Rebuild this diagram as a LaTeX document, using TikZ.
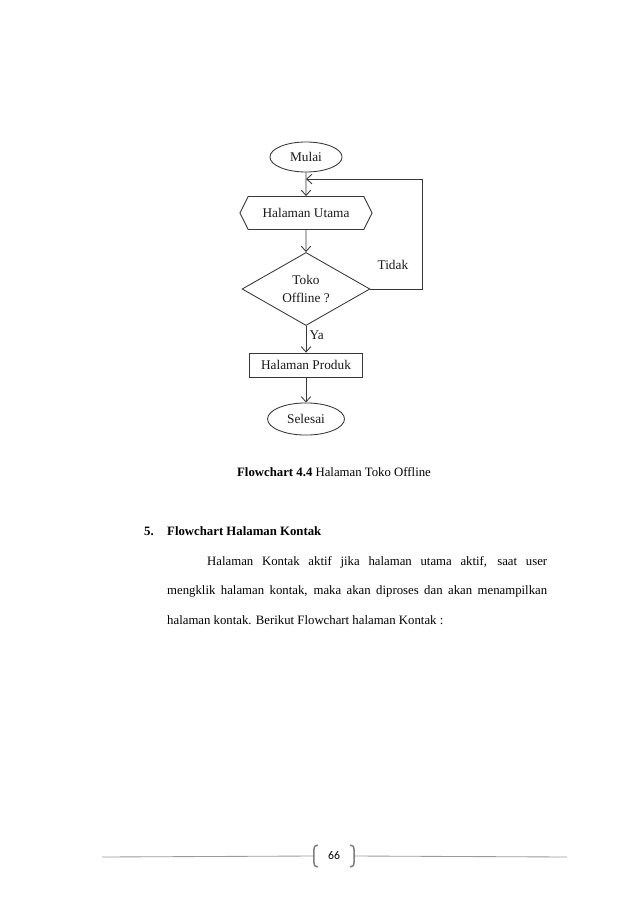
\documentclass[tikz,border=0pt]{standalone}
\usepackage{fontspec}
\setmainfont{Liberation Serif}
\newfontfamily\footfont{Carlito}
\usetikzlibrary{arrows.meta,positioning,calc,shapes.geometric,shapes.symbols}
\definecolor{LineGray}{RGB}{55,55,55}
\definecolor{InkBlack}{RGB}{25,25,25}
\definecolor{FootGray}{RGB}{155,155,155}
\definecolor{BracketGray}{RGB}{125,125,125}

\begin{document}
\begin{tikzpicture}[
      x=0.033cm,y=-0.033cm,
      termNode/.style={draw=LineGray,ellipse,inner sep=0pt,line width=0.8pt,
                       font=\fontsize{12.5}{14}\selectfont,text=InkBlack},
      pageNode/.style={draw=LineGray,signal,signal to=west and east,signal pointer angle=127,
                       inner sep=0pt,minimum width=4.36cm,minimum height=1.09cm,line width=0.8pt,
                       font=\fontsize{12.5}{14}\selectfont,text=InkBlack},
      askNode/.style={draw=LineGray,diamond,aspect=1.75,inner sep=0pt,
                      minimum width=4.22cm,minimum height=2.41cm,line width=0.8pt,align=center,
                      font=\fontsize{12.5}{17}\selectfont,text=InkBlack},
      procNode/.style={draw=LineGray,rectangle,inner sep=0pt,
                       minimum width=3.73cm,minimum height=0.79cm,line width=0.8pt,
                       font=\fontsize{12.5}{14}\selectfont,text=InkBlack},
      lbl/.style={inner sep=0pt,font=\fontsize{12.5}{14}\selectfont,text=InkBlack},
      bodyText/.style={inner sep=0pt,anchor=base west,font=\fontsize{12}{14}\selectfont,text=black},
      arr/.style={-{Straight Barb[length=5pt,width=9pt]},line width=0.8pt,color=LineGray},
      footLine/.style={line width=0.8pt,color=FootGray},
      bracket/.style={line width=1.4pt,color=BracketGray}
    ]
    \useasboundingbox[fill=white] (0,0) rectangle (638,903);

    % Flowchart 4.4 (top to bottom)
    \node(mulai)[termNode,minimum width=2.38cm,minimum height=0.99cm] at (306,157) {Mulai};
    \node(utama)[pageNode] at (306,213) {Halaman Utama};
    \node(toko)[askNode] at (306,289) {Toko\\Offline ?};
    \node(produk)[procNode] at (306,365) {Halaman Produk};
    \node(selesai)[termNode,minimum width=2.54cm,minimum height=1.06cm] at (306,419) {Selesai};

    \coordinate (loopin) at ($(mulai.south)!0.28!(utama.north)$);

    % Main arrows
    \draw[arr] (mulai) -- (utama);
    \draw[arr] (utama) -- (toko);
    \draw[arr] (toko) -- node[lbl,right,pos=0.36,xshift=3pt]{Ya} (produk);
    \draw[arr] (produk) -- (selesai);

    % Loop back on the right
    \draw[arr] (toko.east) -- ++(52,0) coordinate (turn) |- (loopin);
    \node(tidak)[lbl,above left=0.64cm and 0.46cm of turn] {Tidak};

    % Caption and text below
    \node(caption)[bodyText,anchor=base] at (334,476) {\textbf{Flowchart 4.4} Halaman Toko Offline};
    \node(secnum)[bodyText] at (144,535) {\textbf{5.}};
    \node(sectitle)[bodyText] at (167,535) {\textbf{Flowchart Halaman Kontak}};
    \node(para1)[bodyText] at (207,565)
      {\makebox[11.22cm][s]{Halaman Kontak aktif jika halaman utama aktif, saat user}};
    \node(para2)[bodyText] at (167,594)
      {\makebox[12.54cm][s]{mengklik halaman kontak, maka akan diproses dan akan menampilkan}};
    \node(para3)[bodyText] at (167,624) {halaman kontak. Berikut Flowchart halaman Kontak :};

    % Footer with page number
    \coordinate (footL) at (102,857);
    \coordinate (footR) at (567,857);
    \node(pagenum)[inner sep=0pt,minimum width=1.32cm,font=\footfont\fontsize{11}{13}\selectfont] at (334,856) {66};
    \draw[footLine] (footL) -- (pagenum.west);
    \draw[footLine] (pagenum.east) -- (footR);
    \begin{scope}[shift={(pagenum.west)}]
      \draw[bracket] (4,-11) .. controls (1,-11) and (0,-9) .. (0,-6) -- (0,6) .. controls (0,9) and (1,11) .. (4,11);
    \end{scope}
    \begin{scope}[shift={(pagenum.east)}]
      \draw[bracket] (-4,-11) .. controls (-1,-11) and (0,-9) .. (0,-6) -- (0,6) .. controls (0,9) and (-1,11) .. (-4,11);
    \end{scope}
  \end{tikzpicture}
\end{document}
